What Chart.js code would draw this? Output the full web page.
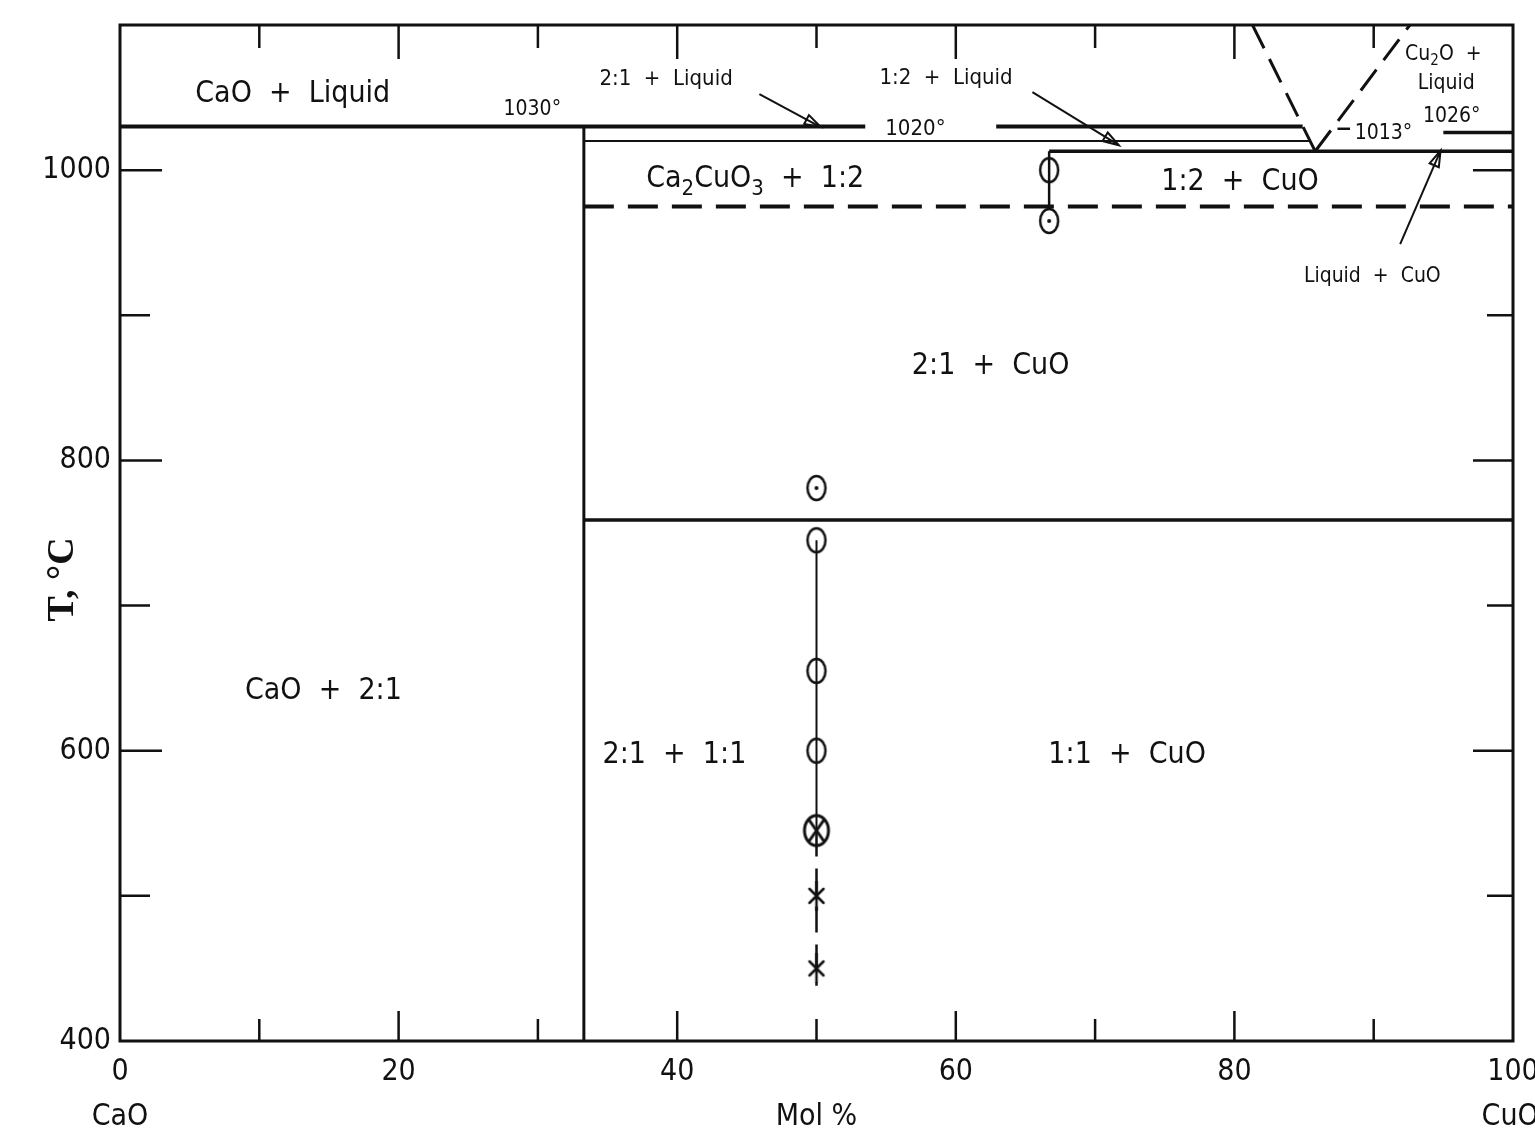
<!DOCTYPE html>
<html>
<head>
<meta charset="utf-8">
<script src="https://cdn.jsdelivr.net/npm/chart.js@4.4.1/dist/chart.umd.min.js"></script>
<style>
  html, body { margin: 0; padding: 0; background: #fff; overflow: hidden; }
  #phase { display: block; }
</style>
</head>
<body>
<canvas id="phase" width="1535" height="1136"></canvas>
<script>
const INK = "#111";
const LETTER = "'DejaVu Sans Condensed', 'Roboto Condensed', sans-serif";

// axes
const xTicks = [0, 20, 40, 60, 80, 100];
const yTicks = [400, 600, 800, 1000];
const xMinor = [10, 30, 50, 70, 90];
const yMinor = [500, 700, 900];

// phase boundaries as [mol % CuO, T in °C]
const line1030a = [[0, 1030], [53.5, 1030]];
const line1030b = [[62.9, 1030], [84.9, 1030]];
const line1020 = [[33.3, 1020], [85.4, 1020]];
const line1013 = [[66.7, 1013], [100, 1013]];
const line1026 = [[95.0, 1026], [100, 1026]];
const line975 = [[33.3, 975], [100, 975]];
const line759 = [[33.3, 759], [100, 759]];
const vert21 = [[33.3, 400], [33.3, 1030]];
const vert12 = [[66.7, 1013], [66.7, 975]];
const vert11 = [[50, 745], [50, 545]];
const vert11Dash = [[50, 545], [50, 438]];
const liquidusLeft = [[81.3, 1100], [85.8, 1013]];
const liquidusRight = [[85.8, 1013], [92.6, 1100]];

// experimental points
const openPoints = [[50, 745], [50, 655], [50, 600], [66.7, 1000]];
const dotPoints = [[50, 781], [66.7, 965]];
const crossedPoints = [[50, 545]];
const xPoints = [[50, 500], [50, 450]];

// field labels: text, x, T, font size  (_n = subscript)
const fieldLabels = [
  ["CaO  +  Liquid", 12.4, 1054.5, 30],
  ["1030°", 29.6, 1043.4, 21],
  ["2:1  +  Liquid", 39.2, 1064, 22],
  ["1020°", 57.1, 1029.7, 22],
  ["1:2  +  Liquid", 59.3, 1064.8, 22],
  ["Cu_2O  +", 95.0, 1081.4, 21],
  ["Liquid", 95.2, 1061.4, 21],
  ["1026°", 95.6, 1038.6, 21],
  ["1013°", 90.7, 1027, 21],
  ["Ca_2CuO_3  +  1:2", 45.6, 995.9, 30],
  ["1:2  +  CuO", 80.4, 993.8, 30],
  ["Liquid  +  CuO", 89.9, 928.3, 21],
  ["2:1  +  CuO", 62.5, 866.9, 30],
  ["CaO  +  2:1", 14.6, 643.4, 30],
  ["2:1  +  1:1", 39.8, 599.3, 30],
  ["1:1  +  CuO", 72.3, 599.3, 30]
];

// pointer arrows [from, to] and the short leader by 1013°
const arrows = [
  [[45.9, 1052.4], [50.3, 1029.7]],
  [[65.5, 1053.8], [71.7, 1017.2]],
  [[91.9, 949], [94.8, 1013.5]]
];
const leaders = [[[87.4, 1028.5], [88.3, 1028.5]]];

// composition ends and axis name
const endLabels = [["CaO", 0], ["Mol %", 50], ["CuO", 99.8]];

function pts(arr) {
  return arr.map(([x, y]) => ({ x, y }));
}

function seg(arr, width, dash) {
  return {
    data: pts(arr), showLine: true, borderColor: INK, borderWidth: width,
    borderDash: dash || [], pointRadius: 0, fill: false, tension: 0
  };
}

function markerCanvas(w, h, draw) {
  const c = document.createElement("canvas");
  c.width = w; c.height = h;
  const g = c.getContext("2d");
  g.strokeStyle = INK; g.fillStyle = INK; g.lineCap = "round";
  draw(g, w, h);
  return c;
}

const ring = markerCanvas(24, 30, g => {
  g.lineWidth = 2.5;
  g.beginPath(); g.ellipse(12, 15, 9, 12, 0, 0, Math.PI * 2); g.stroke();
});
const ringDot = markerCanvas(24, 30, g => {
  g.lineWidth = 2.5;
  g.beginPath(); g.ellipse(12, 15, 9, 12, 0, 0, Math.PI * 2); g.stroke();
  g.beginPath(); g.arc(12, 15, 2, 0, Math.PI * 2); g.fill();
});
const ringCross = markerCanvas(32, 38, g => {
  g.lineWidth = 3;
  g.beginPath(); g.ellipse(16, 19, 12, 15, 0, 0, Math.PI * 2); g.stroke();
  g.beginPath();
  g.moveTo(9, 9); g.lineTo(23, 29);
  g.moveTo(23, 9); g.lineTo(9, 29);
  g.stroke();
});
const xMark = markerCanvas(22, 30, g => {
  g.lineWidth = 2.5;
  g.beginPath();
  g.moveTo(4, 8); g.lineTo(18, 22);
  g.moveTo(18, 8); g.lineTo(4, 22);
  g.moveTo(11, 0); g.lineTo(11, 30);
  g.stroke();
});

function marks(arr, img) {
  return { data: pts(arr), showLine: false, pointStyle: img, pointRadius: 10, borderColor: INK };
}

function drawRich(ctx, str, cx, cy, size) {
  const parts = str.split(/_(\d)/);
  const big = size + "px " + LETTER;
  const small = Math.round(size * 0.72) + "px " + LETTER;
  let total = 0;
  parts.forEach((p, i) => {
    ctx.font = i % 2 ? small : big;
    total += ctx.measureText(p).width;
  });
  let x0 = cx - total / 2;
  const base = cy + size * 0.36;
  ctx.textAlign = "left";
  ctx.textBaseline = "alphabetic";
  parts.forEach((p, i) => {
    ctx.font = i % 2 ? small : big;
    ctx.fillText(p, x0, i % 2 ? base + size * 0.26 : base);
    x0 += ctx.measureText(p).width;
  });
}

function arrowHead(ctx, x1, y1, x2, y2) {
  const ang = Math.atan2(y2 - y1, x2 - x1);
  const len = 16, half = 5;
  const bx = x2 - len * Math.cos(ang), by = y2 - len * Math.sin(ang);
  const nx = -Math.sin(ang) * half, ny = Math.cos(ang) * half;
  ctx.beginPath();
  ctx.moveTo(x2, y2);
  ctx.lineTo(bx + nx, by + ny);
  ctx.lineTo(bx - nx, by - ny);
  ctx.closePath();
  ctx.stroke();
}

const notes = {
  id: "notes",
  afterDatasetsDraw(chart) {
    const { ctx, chartArea: a, scales: { x, y } } = chart;
    ctx.save();
    ctx.strokeStyle = INK;
    ctx.fillStyle = INK;

    // frame
    ctx.lineWidth = 3;
    ctx.strokeRect(a.left, a.top, a.right - a.left, a.bottom - a.top);

    // inward ticks
    ctx.lineWidth = 2.5;
    ctx.beginPath();
    xTicks.slice(1, -1).concat(xMinor).forEach(v => {
      const px = x.getPixelForValue(v);
      const major = xTicks.includes(v);
      ctx.moveTo(px, a.bottom); ctx.lineTo(px, a.bottom - (major ? 30 : 22));
      ctx.moveTo(px, a.top); ctx.lineTo(px, a.top + (major ? 34 : 23));
    });
    yTicks.slice(1).concat(yMinor).forEach(v => {
      const py = y.getPixelForValue(v);
      const major = yTicks.includes(v);
      ctx.moveTo(a.left, py); ctx.lineTo(a.left + (major ? 42 : 30), py);
      ctx.moveTo(a.right, py); ctx.lineTo(a.right - (major ? 40 : 26), py);
    });
    ctx.stroke();

    // arrows and leaders
    ctx.lineWidth = 2;
    arrows.forEach(([f, t]) => {
      const x1 = x.getPixelForValue(f[0]), y1 = y.getPixelForValue(f[1]);
      const x2 = x.getPixelForValue(t[0]), y2 = y.getPixelForValue(t[1]);
      ctx.beginPath(); ctx.moveTo(x1, y1); ctx.lineTo(x2, y2); ctx.stroke();
      arrowHead(ctx, x1, y1, x2, y2);
    });
    ctx.lineWidth = 2.5;
    leaders.forEach(([f, t]) => {
      ctx.beginPath();
      ctx.moveTo(x.getPixelForValue(f[0]), y.getPixelForValue(f[1]));
      ctx.lineTo(x.getPixelForValue(t[0]), y.getPixelForValue(t[1]));
      ctx.stroke();
    });

    // field labels
    fieldLabels.forEach(([txt, vx, vy, size]) => {
      drawRich(ctx, txt, x.getPixelForValue(vx), y.getPixelForValue(vy), size);
    });

    // composition ends + axis names
    endLabels.forEach(([txt, vx]) => {
      drawRich(ctx, txt, x.getPixelForValue(vx), a.bottom + 73, 30);
    });

    ctx.font = "bold 38px 'Liberation Serif', 'DejaVu Serif', serif";
    ctx.textAlign = "center";
    ctx.textBaseline = "middle";
    ctx.translate(a.left - 57, y.getPixelForValue(718));
    ctx.rotate(-Math.PI / 2);
    ctx.fillText("T, °C", 0, 0);
    ctx.restore();
  }
};

new Chart(document.getElementById("phase"), {
  type: "scatter",
  data: {
    datasets: [
      marks(crossedPoints, ringCross),
      marks(openPoints, ring),
      marks(dotPoints, ringDot),
      marks(xPoints, xMark),
      seg(line1030a, 4),
      seg(line1030b, 4),
      seg(line1020, 2),
      seg(line1013, 3.5),
      seg(line1026, 3.5),
      seg(line975, 4, [30, 14]),
      seg(line759, 3.5),
      seg(vert21, 3),
      seg(vert12, 2.5),
      seg(vert11, 2),
      seg(vert11Dash, 2.5, [26, 12]),
      seg(liquidusLeft, 3, [26, 12]),
      seg(liquidusRight, 3, [26, 12])
    ]
  },
  options: {
    responsive: false,
    animation: false,
    layout: { padding: { top: 25, right: 22, left: 0, bottom: 0 }, autoPadding: false },
    plugins: { legend: { display: false }, tooltip: { enabled: false } },
    scales: {
      x: {
        type: "linear", min: 0, max: 100,
        afterBuildTicks: s => { s.ticks = xTicks.map(v => ({ value: v })); },
        afterFit: s => { s.height = 95; s.paddingLeft = 0; s.paddingRight = 0; },
        grid: { display: false, drawTicks: false },
        border: { display: false },
        ticks: { font: { family: LETTER, size: 30 }, color: INK, padding: 13, maxRotation: 0, autoSkip: false, callback: v => String(v) }
      },
      y: {
        type: "linear", min: 400, max: 1100,
        afterBuildTicks: s => { s.ticks = yTicks.map(v => ({ value: v })); },
        afterFit: s => { s.width = 120; s.paddingTop = 0; s.paddingBottom = 0; },
        grid: { display: false, drawTicks: false },
        border: { display: false },
        ticks: { font: { family: LETTER, size: 30 }, color: INK, padding: 9, autoSkip: false, callback: v => String(v) }
      }
    }
  },
  plugins: [notes]
});
</script>
</body>
</html>
